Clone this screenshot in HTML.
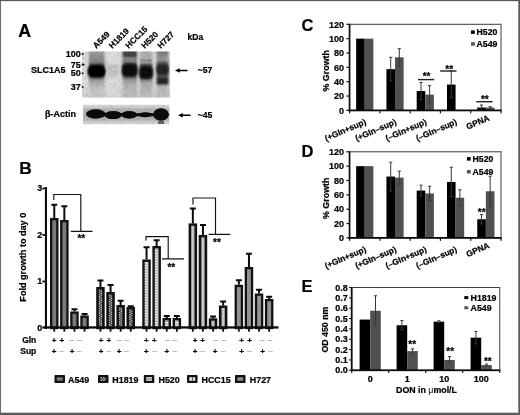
<!DOCTYPE html>
<html><head><meta charset="utf-8"><title>Figure</title>
<style>
html,body{margin:0;padding:0;background:#fff;}
body{width:520px;height:415px;overflow:hidden;}
svg{display:block;font-family:"Liberation Sans",Arial,sans-serif;font-weight:bold;fill:#000;}
text{stroke:#000;stroke-width:0.22px;}
</style></head><body>
<svg width="520" height="415" viewBox="0 0 520 415">
<defs>
<filter id="b1" x="-50%" y="-50%" width="200%" height="200%"><feGaussianBlur stdDeviation="1.1"/></filter>
<filter id="b2" x="-50%" y="-50%" width="200%" height="200%"><feGaussianBlur stdDeviation="2"/></filter>
<filter id="bl" x="-50%" y="-50%" width="200%" height="200%"><feGaussianBlur stdDeviation="1 0.4"/></filter>
<filter id="b05" x="-50%" y="-50%" width="200%" height="200%"><feGaussianBlur stdDeviation="0.6"/></filter>
<filter id="noise" x="0" y="0" width="100%" height="100%">
<feTurbulence type="fractalNoise" baseFrequency="0.35" numOctaves="2" seed="4" result="n"/>
<feColorMatrix in="n" type="matrix" values="0 0 0 0 0  0 0 0 0 0  0 0 0 0 0  0.9 0 0 0 -0.32"/>
<feComposite in2="SourceGraphic" operator="in"/>
</filter>
<pattern id="pChk" width="20" height="2.3" patternUnits="userSpaceOnUse">
<rect width="20" height="2.3" fill="#0a0a0a"/>
<rect x="2.4" y="0.05" width="1.65" height="1.3" rx="0.4" fill="#fff"/><rect x="4.5" y="1.2" width="1.65" height="1.3" rx="0.4" fill="#fff"/><rect x="4.5" y="-1.1" width="1.65" height="1.3" rx="0.4" fill="#fff"/>
</pattern>
<pattern id="pHor" width="2" height="1.6" patternUnits="userSpaceOnUse">
<rect width="2" height="1.6" fill="#f2f2f2"/><rect width="2" height="0.6" fill="#8a8a8a"/>
</pattern>
<linearGradient id="pVer" x1="0" x2="1" y1="0" y2="0">
<stop offset="0.2" stop-color="#808080"/><stop offset="0.5" stop-color="#dedede"/><stop offset="0.8" stop-color="#808080"/>
</linearGradient>
<pattern id="pDia" width="2" height="2" patternUnits="userSpaceOnUse" patternTransform="rotate(-45)">
<rect width="2" height="2" fill="#a6a6a6"/><rect width="2" height="0.7" fill="#6c6c6c"/>
</pattern>
<clipPath id="cu"><rect x="82" y="51.5" width="88" height="46"/></clipPath>
<clipPath id="cl"><rect x="83" y="104.5" width="86.5" height="20"/></clipPath>
</defs>
<rect x="0" y="0" width="520" height="415" fill="#fff"/>

<text x="18.3" y="36.8" font-size="17.8">A</text>
<g clip-path="url(#cu)">
<rect x="82" y="51.5" width="88" height="46" fill="#dcdcdc"/>
<rect x="82" y="92" width="88" height="7" fill="#cfcfcf" opacity="0.7" filter="url(#b1)"/>
<linearGradient id="lA" x1="0" x2="0" y1="0" y2="1"><stop offset="0.000" stop-color="#a4a4a4"/><stop offset="0.120" stop-color="#969696"/><stop offset="0.240" stop-color="#848484"/><stop offset="0.300" stop-color="#404040"/><stop offset="0.340" stop-color="#141414"/><stop offset="0.420" stop-color="#0a0a0a"/><stop offset="0.500" stop-color="#141414"/><stop offset="0.560" stop-color="#707070"/><stop offset="0.620" stop-color="#a4a4a4"/><stop offset="0.700" stop-color="#b6b6b6"/><stop offset="0.780" stop-color="#c6c6c6"/><stop offset="1.000" stop-color="#cccccc"/></linearGradient>
<rect x="89" y="50" width="15.5" height="50" fill="url(#lA)" filter="url(#bl)"/>
<linearGradient id="lB" x1="0" x2="0" y1="0" y2="1"><stop offset="0.000" stop-color="#e2e2e2"/><stop offset="0.240" stop-color="#e0e0e0"/><stop offset="0.320" stop-color="#c6c6c6"/><stop offset="0.480" stop-color="#c8c8c8"/><stop offset="0.580" stop-color="#dedede"/><stop offset="1.000" stop-color="#dcdcdc"/></linearGradient>
<rect x="107" y="50" width="12" height="50" fill="url(#lB)" filter="url(#bl)"/>
<linearGradient id="lC" x1="0" x2="0" y1="0" y2="1"><stop offset="0.000" stop-color="#404040"/><stop offset="0.120" stop-color="#484848"/><stop offset="0.160" stop-color="#808080"/><stop offset="0.220" stop-color="#888888"/><stop offset="0.270" stop-color="#505050"/><stop offset="0.320" stop-color="#1c1c1c"/><stop offset="0.400" stop-color="#121212"/><stop offset="0.480" stop-color="#1c1c1c"/><stop offset="0.540" stop-color="#606060"/><stop offset="0.600" stop-color="#989898"/><stop offset="0.700" stop-color="#b6b6b6"/><stop offset="1.000" stop-color="#c2c2c2"/></linearGradient>
<rect x="122.5" y="50" width="14.5" height="50" fill="url(#lC)" filter="url(#bl)"/>
<linearGradient id="lD" x1="0" x2="0" y1="0" y2="1"><stop offset="0.000" stop-color="#acacac"/><stop offset="0.160" stop-color="#b4b4b4"/><stop offset="0.210" stop-color="#8c8c8c"/><stop offset="0.250" stop-color="#a0a0a0"/><stop offset="0.300" stop-color="#505050"/><stop offset="0.360" stop-color="#1c1c1c"/><stop offset="0.460" stop-color="#101010"/><stop offset="0.540" stop-color="#202020"/><stop offset="0.600" stop-color="#808080"/><stop offset="0.660" stop-color="#aeaeae"/><stop offset="1.000" stop-color="#c6c6c6"/></linearGradient>
<rect x="139.8" y="50" width="12.6" height="50" fill="url(#lD)" filter="url(#bl)"/>
<linearGradient id="lE" x1="0" x2="0" y1="0" y2="1"><stop offset="0.000" stop-color="#686868"/><stop offset="0.100" stop-color="#8c8c8c"/><stop offset="0.200" stop-color="#969696"/><stop offset="0.270" stop-color="#505050"/><stop offset="0.330" stop-color="#2c2c2c"/><stop offset="0.420" stop-color="#262626"/><stop offset="0.480" stop-color="#383838"/><stop offset="0.540" stop-color="#505050"/><stop offset="0.580" stop-color="#2c2c2c"/><stop offset="0.650" stop-color="#222222"/><stop offset="0.690" stop-color="#707070"/><stop offset="0.730" stop-color="#b6b6b6"/><stop offset="1.000" stop-color="#c6c6c6"/></linearGradient>
<rect x="156.6" y="50" width="11.8" height="50" fill="url(#lE)" filter="url(#bl)"/>
<rect x="87.5" y="65.6" width="18" height="11.6" rx="5.5" fill="#060606" filter="url(#b1)"/>
<rect x="121.8" y="64" width="15.8" height="12.5" rx="5.5" fill="#101010" opacity="0.9" filter="url(#b1)"/>
<rect x="138.8" y="66.5" width="14.2" height="12" rx="5.5" fill="#0c0c0c" opacity="0.9" filter="url(#b1)"/>
<rect x="156" y="65" width="13" height="8.5" rx="4" fill="#222" opacity="0.7" filter="url(#b1)"/>
<rect x="82" y="51.5" width="88" height="46" fill="#555" filter="url(#noise)" opacity="0.22"/>
</g>
<circle cx="82.6" cy="54" r="1" fill="#111"/>
<circle cx="82.6" cy="64.6" r="1" fill="#111"/>
<circle cx="82.6" cy="73.3" r="1" fill="#111"/>
<circle cx="82.6" cy="87" r="1" fill="#111"/>
<rect x="82" y="63.8" width="2.6" height="1.6" rx="0.6" fill="#111"/>
<g clip-path="url(#cl)">
<rect x="83" y="104.5" width="86.5" height="20" fill="#d6d6d6"/>
<rect x="83" y="108" width="86.5" height="13" fill="#b4b4b4" filter="url(#b1)"/>
<ellipse cx="95.7" cy="114" rx="9.8" ry="4.7" fill="#080808" filter="url(#b05)"/>
<ellipse cx="113.2" cy="115" rx="8.6" ry="4.1" fill="#080808" filter="url(#b05)"/>
<ellipse cx="129.3" cy="114.8" rx="7.8" ry="3.9" fill="#080808" filter="url(#b05)"/>
<ellipse cx="145.3" cy="114.8" rx="7" ry="2.5" fill="#080808" filter="url(#b05)"/>
<ellipse cx="161" cy="114.5" rx="7.7" ry="6.2" fill="#080808" filter="url(#b05)"/>
<path d="M164,110.5 L170,114.8 L164,119 z" fill="#080808" filter="url(#b05)"/>
<rect x="92" y="113.3" width="66" height="3" fill="#080808" filter="url(#b05)"/>
<rect x="158" y="121" width="6" height="3" fill="#666" filter="url(#b05)"/>
<rect x="83" y="104.5" width="86.5" height="20" fill="#555" filter="url(#noise)" opacity="0.2"/>
</g>
<text transform="translate(96.2,49.0) rotate(-45)" font-size="8.3">A549</text>
<text transform="translate(112.2,49.0) rotate(-45)" font-size="8.3">H1819</text>
<text transform="translate(128.7,49.0) rotate(-45)" font-size="8.3">HCC15</text>
<text transform="translate(144.7,49.0) rotate(-45)" font-size="8.3">H520</text>
<text transform="translate(160.7,49.0) rotate(-45)" font-size="8.3">H727</text>
<text x="187.6" y="40.2" font-size="8.5">kDa</text>
<text x="80.8" y="57" font-size="9" text-anchor="end">100</text>
<text x="80.8" y="67.7" font-size="9" text-anchor="end">75</text>
<text x="80.8" y="76.3" font-size="9" text-anchor="end">50</text>
<text x="80.8" y="90" font-size="9" text-anchor="end">37</text>
<text x="31" y="73.3" font-size="9">SLC1A5</text>
<text x="45" y="117.3" font-size="9">β-Actin</text>
<text x="197.8" y="72.8" font-size="8.6">~57</text>
<text x="197.8" y="117.5" font-size="8.6">~45</text>
<path d="M175,70.5 l4.8,-2.3 v1.55 H187.5 v1.5 H179.8 v1.55 z" fill="#000"/>
<path d="M178,115.2 l4.8,-2.3 v1.55 H190.5 v1.5 H182.8 v1.55 z" fill="#000"/>
<text x="19.3" y="173.6" font-size="17.4">B</text>
<path d="M54.25,218 V204.5 M51.25,204.7 H57.25" stroke="#0c0c0c" stroke-width="2" fill="none"/>
<g transform="translate(50.00,218.00)"><rect x="1.15" y="1.15" width="6.20" height="108.85" fill="#7a7a7a" stroke="#111" stroke-width="2.3"/></g>
<rect x="53.35" y="328.0" width="1.8" height="3.7" fill="#111"/>
<path d="M64.35,220 V206 M61.35,206.2 H67.35" stroke="#0c0c0c" stroke-width="2" fill="none"/>
<g transform="translate(60.10,220.00)"><rect x="1.15" y="1.15" width="6.20" height="106.85" fill="#7a7a7a" stroke="#111" stroke-width="2.3"/></g>
<rect x="63.45" y="328.0" width="1.8" height="3.7" fill="#111"/>
<path d="M74.45,311.5 V309 M71.45,309.2 H77.45" stroke="#0c0c0c" stroke-width="2" fill="none"/>
<g transform="translate(70.20,311.50)"><rect x="1.15" y="1.15" width="6.20" height="15.35" fill="#7a7a7a" stroke="#111" stroke-width="2.3"/></g>
<rect x="73.55" y="328.0" width="1.8" height="3.7" fill="#111"/>
<path d="M84.55,315.5 V313.8 M81.55,314.0 H87.55" stroke="#0c0c0c" stroke-width="2" fill="none"/>
<g transform="translate(80.30,315.50)"><rect x="1.15" y="1.15" width="6.20" height="11.35" fill="#7a7a7a" stroke="#111" stroke-width="2.3"/></g>
<rect x="83.65" y="328.0" width="1.8" height="3.7" fill="#111"/>
<text x="54.20" y="343.4" font-size="8" text-anchor="middle" stroke="#000" stroke-width="0.35">+</text>
<text x="54.20" y="354.2" font-size="8" text-anchor="middle" stroke="#000" stroke-width="0.35">+</text>
<text x="61.90" y="343.4" font-size="8" text-anchor="middle" stroke="#000" stroke-width="0.35">+</text>
<rect x="59.50" y="350.90" width="4.8" height="0.9" fill="#b0b0b0"/>
<rect x="69.10" y="340.10" width="4.8" height="0.9" fill="#b0b0b0"/>
<text x="72.10" y="354.2" font-size="8" text-anchor="middle" stroke="#000" stroke-width="0.35">+</text>
<rect x="76.80" y="340.10" width="4.8" height="0.9" fill="#b0b0b0"/>
<rect x="76.90" y="350.90" width="4.8" height="0.9" fill="#b0b0b0"/>
<path d="M100.45,287 V280.3 M97.45,280.5 H103.45" stroke="#0c0c0c" stroke-width="2" fill="none"/>
<g transform="translate(96.20,287.00)"><rect x="1.2" y="1.2" width="6.10" height="39.80" fill="url(#pChk)" stroke="#111" stroke-width="2.4"/></g>
<rect x="99.55" y="328.0" width="1.8" height="3.7" fill="#111"/>
<path d="M110.55,292 V284.8 M107.55,285.0 H113.55" stroke="#0c0c0c" stroke-width="2" fill="none"/>
<g transform="translate(106.30,292.00)"><rect x="1.2" y="1.2" width="6.10" height="34.80" fill="url(#pChk)" stroke="#111" stroke-width="2.4"/></g>
<rect x="109.65" y="328.0" width="1.8" height="3.7" fill="#111"/>
<path d="M120.65,305 V300.5 M117.65,300.7 H123.65" stroke="#0c0c0c" stroke-width="2" fill="none"/>
<g transform="translate(116.40,305.00)"><rect x="1.2" y="1.2" width="6.10" height="21.80" fill="url(#pChk)" stroke="#111" stroke-width="2.4"/></g>
<rect x="119.75" y="328.0" width="1.8" height="3.7" fill="#111"/>
<path d="M130.75,307 V306 M127.75,306.2 H133.75" stroke="#0c0c0c" stroke-width="2" fill="none"/>
<g transform="translate(126.50,307.00)"><rect x="1.2" y="1.2" width="6.10" height="19.80" fill="url(#pChk)" stroke="#111" stroke-width="2.4"/></g>
<rect x="129.85" y="328.0" width="1.8" height="3.7" fill="#111"/>
<text x="101.20" y="343.4" font-size="8" text-anchor="middle" stroke="#000" stroke-width="0.35">+</text>
<text x="101.20" y="354.2" font-size="8" text-anchor="middle" stroke="#000" stroke-width="0.35">+</text>
<text x="108.80" y="343.4" font-size="8" text-anchor="middle" stroke="#000" stroke-width="0.35">+</text>
<rect x="106.40" y="350.90" width="4.8" height="0.9" fill="#b0b0b0"/>
<rect x="116.80" y="340.10" width="4.8" height="0.9" fill="#b0b0b0"/>
<text x="119.20" y="354.2" font-size="8" text-anchor="middle" stroke="#000" stroke-width="0.35">+</text>
<rect x="124.50" y="340.10" width="4.8" height="0.9" fill="#b0b0b0"/>
<rect x="124.10" y="350.90" width="4.8" height="0.9" fill="#b0b0b0"/>
<path d="M146.55,259.5 V247 M143.55,247.2 H149.55" stroke="#0c0c0c" stroke-width="2" fill="none"/>
<g transform="translate(142.30,259.50)"><rect x="1.2" y="1.2" width="6.10" height="67.30" fill="url(#pHor)" stroke="#111" stroke-width="2.4"/></g>
<rect x="145.65" y="328.0" width="1.8" height="3.7" fill="#111"/>
<path d="M156.65,246 V240 M153.65,240.2 H159.65" stroke="#0c0c0c" stroke-width="2" fill="none"/>
<g transform="translate(152.40,246.00)"><rect x="1.2" y="1.2" width="6.10" height="80.80" fill="url(#pHor)" stroke="#111" stroke-width="2.4"/></g>
<rect x="155.75" y="328.0" width="1.8" height="3.7" fill="#111"/>
<path d="M166.75,318 V315.8 M163.75,316.0 H169.75" stroke="#0c0c0c" stroke-width="2" fill="none"/>
<g transform="translate(162.50,318.00)"><rect x="1.2" y="1.2" width="6.10" height="8.80" fill="url(#pHor)" stroke="#111" stroke-width="2.4"/></g>
<rect x="165.85" y="328.0" width="1.8" height="3.7" fill="#111"/>
<path d="M176.85,318 V315.8 M173.85,316.0 H179.85" stroke="#0c0c0c" stroke-width="2" fill="none"/>
<g transform="translate(172.60,318.00)"><rect x="1.2" y="1.2" width="6.10" height="8.80" fill="url(#pHor)" stroke="#111" stroke-width="2.4"/></g>
<rect x="175.95" y="328.0" width="1.8" height="3.7" fill="#111"/>
<text x="146.30" y="343.4" font-size="8" text-anchor="middle" stroke="#000" stroke-width="0.35">+</text>
<text x="146.30" y="354.2" font-size="8" text-anchor="middle" stroke="#000" stroke-width="0.35">+</text>
<text x="154.40" y="343.4" font-size="8" text-anchor="middle" stroke="#000" stroke-width="0.35">+</text>
<rect x="152.20" y="350.90" width="4.8" height="0.9" fill="#b0b0b0"/>
<rect x="164.90" y="340.10" width="4.8" height="0.9" fill="#b0b0b0"/>
<text x="166.90" y="354.2" font-size="8" text-anchor="middle" stroke="#000" stroke-width="0.35">+</text>
<rect x="172.40" y="340.10" width="4.8" height="0.9" fill="#b0b0b0"/>
<rect x="172.40" y="350.90" width="4.8" height="0.9" fill="#b0b0b0"/>
<path d="M192.85,223.4 V208.3 M189.85,208.5 H195.85" stroke="#0c0c0c" stroke-width="2" fill="none"/>
<g transform="translate(188.60,223.40)"><rect x="1.2" y="1.2" width="6.10" height="103.40" fill="url(#pVer)" stroke="#111" stroke-width="2.4"/></g>
<rect x="191.95" y="328.0" width="1.8" height="3.7" fill="#111"/>
<path d="M202.95,235 V224.8 M199.95,225.0 H205.95" stroke="#0c0c0c" stroke-width="2" fill="none"/>
<g transform="translate(198.70,235.00)"><rect x="1.2" y="1.2" width="6.10" height="91.80" fill="url(#pVer)" stroke="#111" stroke-width="2.4"/></g>
<rect x="202.05" y="328.0" width="1.8" height="3.7" fill="#111"/>
<path d="M213.05,318.3 V316.3 M210.05,316.5 H216.05" stroke="#0c0c0c" stroke-width="2" fill="none"/>
<g transform="translate(208.80,318.30)"><rect x="1.2" y="1.2" width="6.10" height="8.50" fill="url(#pVer)" stroke="#111" stroke-width="2.4"/></g>
<rect x="212.15" y="328.0" width="1.8" height="3.7" fill="#111"/>
<path d="M223.15,305.5 V301.3 M220.15,301.5 H226.15" stroke="#0c0c0c" stroke-width="2" fill="none"/>
<g transform="translate(218.90,305.50)"><rect x="1.2" y="1.2" width="6.10" height="21.30" fill="url(#pVer)" stroke="#111" stroke-width="2.4"/></g>
<rect x="222.25" y="328.0" width="1.8" height="3.7" fill="#111"/>
<text x="195.00" y="343.4" font-size="8" text-anchor="middle" stroke="#000" stroke-width="0.35">+</text>
<text x="195.00" y="354.2" font-size="8" text-anchor="middle" stroke="#000" stroke-width="0.35">+</text>
<text x="202.70" y="343.4" font-size="8" text-anchor="middle" stroke="#000" stroke-width="0.35">+</text>
<rect x="200.30" y="350.90" width="4.8" height="0.9" fill="#b0b0b0"/>
<rect x="213.20" y="340.10" width="4.8" height="0.9" fill="#b0b0b0"/>
<text x="215.00" y="354.2" font-size="8" text-anchor="middle" stroke="#000" stroke-width="0.35">+</text>
<rect x="221.10" y="340.10" width="4.8" height="0.9" fill="#b0b0b0"/>
<rect x="220.60" y="350.90" width="4.8" height="0.9" fill="#b0b0b0"/>
<path d="M238.85,284.8 V280 M235.85,280.2 H241.85" stroke="#0c0c0c" stroke-width="2" fill="none"/>
<g transform="translate(234.60,284.80)"><rect x="1.15" y="1.15" width="6.20" height="42.05" fill="url(#pDia)" stroke="#111" stroke-width="2.3"/></g>
<rect x="237.95" y="328.0" width="1.8" height="3.7" fill="#111"/>
<path d="M248.95,267 V253.6 M245.95,253.79999999999998 H251.95" stroke="#0c0c0c" stroke-width="2" fill="none"/>
<g transform="translate(244.70,267.00)"><rect x="1.15" y="1.15" width="6.20" height="59.85" fill="url(#pDia)" stroke="#111" stroke-width="2.3"/></g>
<rect x="248.05" y="328.0" width="1.8" height="3.7" fill="#111"/>
<path d="M259.05,293.5 V289.5 M256.05,289.7 H262.05" stroke="#0c0c0c" stroke-width="2" fill="none"/>
<g transform="translate(254.80,293.50)"><rect x="1.15" y="1.15" width="6.20" height="33.35" fill="url(#pDia)" stroke="#111" stroke-width="2.3"/></g>
<rect x="258.15" y="328.0" width="1.8" height="3.7" fill="#111"/>
<path d="M269.15,299 V296.5 M266.15,296.7 H272.15" stroke="#0c0c0c" stroke-width="2" fill="none"/>
<g transform="translate(264.90,299.00)"><rect x="1.15" y="1.15" width="6.20" height="27.85" fill="url(#pDia)" stroke="#111" stroke-width="2.3"/></g>
<rect x="268.25" y="328.0" width="1.8" height="3.7" fill="#111"/>
<text x="241.50" y="343.4" font-size="8" text-anchor="middle" stroke="#000" stroke-width="0.35">+</text>
<text x="241.50" y="354.2" font-size="8" text-anchor="middle" stroke="#000" stroke-width="0.35">+</text>
<text x="249.60" y="343.4" font-size="8" text-anchor="middle" stroke="#000" stroke-width="0.35">+</text>
<rect x="247.20" y="350.90" width="4.8" height="0.9" fill="#b0b0b0"/>
<rect x="259.90" y="340.10" width="4.8" height="0.9" fill="#b0b0b0"/>
<text x="262.70" y="354.2" font-size="8" text-anchor="middle" stroke="#000" stroke-width="0.35">+</text>
<rect x="267.60" y="340.10" width="4.8" height="0.9" fill="#b0b0b0"/>
<rect x="268.00" y="350.90" width="4.8" height="0.9" fill="#b0b0b0"/>
<rect x="44.9" y="187" width="2.1" height="142.0" fill="#0c0c0c"/>
<rect x="42.5" y="326.3" width="236" height="2.3" fill="#0c0c0c"/>
<rect x="42.3" y="280.60" width="3" height="1.8" fill="#111"/>
<rect x="42.3" y="234.10" width="3" height="1.8" fill="#111"/>
<rect x="42.3" y="187.60" width="3" height="1.8" fill="#111"/>
<text x="42.3" y="330.90" font-size="9" text-anchor="end">0</text>
<text x="42.3" y="284.40" font-size="9" text-anchor="end">1</text>
<text x="42.3" y="237.90" font-size="9" text-anchor="end">2</text>
<text x="42.3" y="191.40" font-size="9" text-anchor="end">3</text>
<text transform="translate(25.9,257.2) rotate(-90)" font-size="9.1" text-anchor="middle">Fold growth to day 0</text>
<text x="36.3" y="343.4" font-size="8.5" text-anchor="end">Gln</text>
<text x="36.3" y="354.1" font-size="8.5" text-anchor="end">Sup</text>
<path d="M53.8,200 V194.5 H80.8 V231.3 M70.8,231.3 H92.5" stroke="#141414" stroke-width="1.15" fill="none"/>
<text x="81.3" y="241.5" font-size="10" text-anchor="middle">**</text>
<path d="M146,240.6 V236.6 H168.2 V258.8 M162,258.8 H184" stroke="#141414" stroke-width="1.15" fill="none"/>
<text x="171.3" y="270.5" font-size="10" text-anchor="middle">**</text>
<path d="M193,204.5 V198 H215.5 V234.3 M208.6,234.3 H230.3" stroke="#141414" stroke-width="1.15" fill="none"/>
<text x="217" y="246" font-size="10" text-anchor="middle">**</text>
<rect x="54.5" y="375" width="10.5" height="8" rx="0.8" fill="#111"/>
<rect x="56.8" y="377.3" width="5.9" height="3.4" fill="#7a7a7a"/>
<text x="68" y="383" font-size="8.9">A549</text>
<rect x="98" y="375" width="10.5" height="8" rx="0.8" fill="#111"/>
<rect x="100.6" y="377.2" width="1.3" height="1.2" fill="#f4f4f4"/>
<rect x="103.2" y="377.2" width="1.3" height="1.2" fill="#f4f4f4"/>
<rect x="101.9" y="378.5" width="1.3" height="1.2" fill="#f4f4f4"/>
<rect x="104.5" y="378.5" width="1.3" height="1.2" fill="#f4f4f4"/>
<rect x="100.6" y="379.8" width="1.3" height="1.2" fill="#f4f4f4"/>
<rect x="103.2" y="379.8" width="1.3" height="1.2" fill="#f4f4f4"/>
<text x="112.3" y="383" font-size="8.9">H1819</text>
<rect x="143.8" y="375" width="10.5" height="8" rx="0.8" fill="#111"/>
<rect x="146.10000000000002" y="377.2" width="5.9" height="1.4" fill="#fafafa"/>
<rect x="146.10000000000002" y="379.3" width="5.9" height="1.4" fill="#fafafa"/>
<text x="158.5" y="383" font-size="8.9">H520</text>
<rect x="187" y="375" width="10.5" height="8" rx="0.8" fill="#111"/>
<rect x="189.3" y="377.2" width="2.6" height="3.6" fill="#e8e8e8"/>
<rect x="192.6" y="377.2" width="2.6" height="3.6" fill="#e8e8e8"/>
<text x="201.5" y="383" font-size="8.9">HCC15</text>
<rect x="235" y="375" width="10.5" height="8" rx="0.8" fill="#111"/>
<rect x="237.3" y="377.3" width="5.9" height="3.4" fill="url(#pDia)"/>
<text x="249.8" y="383" font-size="8.9">H727</text>
<text x="301.5" y="30.5" font-size="16.5">C</text>
<rect x="349.6" y="23.8" width="152.09999999999997" height="1" fill="#3c3c3c"/>
<rect x="500.3" y="23.8" width="1.4" height="86.60000000000001" fill="#787878"/>
<rect x="356.14" y="38.65" width="8.6" height="71.75" fill="#000"/>
<rect x="364.74" y="38.65" width="8.6" height="71.75" fill="#505050"/>
<rect x="386.42" y="69.14" width="8.6" height="41.26" fill="#000"/>
<path d="M390.72,57.31 V80.98 M389.12,57.31 H392.32 M389.12,80.98 H392.32" stroke="#383838" stroke-width="1" fill="none"/>
<rect x="395.02" y="57.31" width="8.6" height="53.09" fill="#505050"/>
<path d="M399.32,48.70 V65.92 M397.72,48.70 H400.92 M397.72,65.92 H400.92" stroke="#383838" stroke-width="1" fill="none"/>
<rect x="416.70" y="91.03" width="8.6" height="19.37" fill="#000"/>
<path d="M421.00,82.42 V99.64 M419.40,82.42 H422.60 M419.40,99.64 H422.60" stroke="#383838" stroke-width="1" fill="none"/>
<rect x="425.30" y="94.62" width="8.6" height="15.78" fill="#505050"/>
<path d="M429.60,85.65 V103.58 M428.00,85.65 H431.20 M428.00,103.58 H431.20" stroke="#383838" stroke-width="1" fill="none"/>
<rect x="446.98" y="84.57" width="8.6" height="25.83" fill="#000"/>
<path d="M451.28,71.30 V97.84 M449.68,71.30 H452.88 M449.68,97.84 H452.88" stroke="#383838" stroke-width="1" fill="none"/>
<rect x="477.26" y="107.53" width="8.6" height="2.87" fill="#000"/>
<path d="M481.56,105.02 V110.04 M479.96,105.02 H483.16 M479.96,110.04 H483.16" stroke="#383838" stroke-width="1" fill="none"/>
<rect x="485.86" y="107.53" width="8.6" height="2.87" fill="#505050"/>
<path d="M490.16,106.67 V108.39 M488.56,106.67 H491.76 M488.56,108.39 H491.76" stroke="#383838" stroke-width="1" fill="none"/>
<rect x="348.70000000000005" y="23.8" width="1.7" height="87.50000000000001" fill="#0c0c0c"/>
<rect x="348.70000000000005" y="109.5" width="152.99999999999997" height="1.8" fill="#0c0c0c"/>
<rect x="346.40000000000003" y="109.80" width="3" height="1.2" fill="#111"/>
<text x="344.1" y="113.60" font-size="9" text-anchor="end">0</text>
<rect x="346.40000000000003" y="95.45" width="3" height="1.2" fill="#111"/>
<text x="344.1" y="99.25" font-size="9" text-anchor="end">20</text>
<rect x="346.40000000000003" y="81.10" width="3" height="1.2" fill="#111"/>
<text x="344.1" y="84.90" font-size="9" text-anchor="end">40</text>
<rect x="346.40000000000003" y="66.75" width="3" height="1.2" fill="#111"/>
<text x="344.1" y="70.55" font-size="9" text-anchor="end">60</text>
<rect x="346.40000000000003" y="52.40" width="3" height="1.2" fill="#111"/>
<text x="344.1" y="56.20" font-size="9" text-anchor="end">80</text>
<rect x="346.40000000000003" y="38.05" width="3" height="1.2" fill="#111"/>
<text x="344.1" y="41.85" font-size="9" text-anchor="end">100</text>
<rect x="346.40000000000003" y="23.70" width="3" height="1.2" fill="#111"/>
<text x="344.1" y="27.50" font-size="9" text-anchor="end">120</text>
<rect x="349.00" y="110.4" width="1.2" height="2.9" fill="#111"/>
<rect x="379.28" y="110.4" width="1.2" height="2.9" fill="#111"/>
<rect x="409.56" y="110.4" width="1.2" height="2.9" fill="#111"/>
<rect x="439.84" y="110.4" width="1.2" height="2.9" fill="#111"/>
<rect x="470.12" y="110.4" width="1.2" height="2.9" fill="#111"/>
<rect x="500.40" y="110.4" width="1.2" height="2.9" fill="#111"/>
<text transform="translate(329.3,70.8) rotate(-90)" font-size="8.9" text-anchor="middle">% Growth</text>
<text transform="translate(366.7,123.80000000000001) rotate(-23.5)" font-size="8.4" text-anchor="end">(+Gln+sup)</text>
<text transform="translate(397.0,123.80000000000001) rotate(-23.5)" font-size="8.4" text-anchor="end">(+Gln–sup)</text>
<text transform="translate(427.3,123.80000000000001) rotate(-23.5)" font-size="8.4" text-anchor="end">(–Gln+sup)</text>
<text transform="translate(457.6,123.80000000000001) rotate(-23.5)" font-size="8.4" text-anchor="end">(–Gln–sup)</text>
<text transform="translate(490,120.0) rotate(-23.5)" font-size="8.4" text-anchor="end">GPNA</text>
<rect x="418" y="78.89999999999999" width="16.19999999999999" height="1.4" fill="#222"/>
<text x="426.6" y="80.2" font-size="10" text-anchor="middle">**</text>
<rect x="440.2" y="70.3" width="16.30000000000001" height="1.4" fill="#222"/>
<text x="449.2" y="73.0" font-size="10" text-anchor="middle">**</text>
<rect x="476.2" y="101.0" width="16.30000000000001" height="1.4" fill="#222"/>
<text x="484.8" y="102.6" font-size="10" text-anchor="middle">**</text>
<rect x="471" y="30.40" width="3.8" height="3.5" fill="#000"/>
<text x="476.6" y="35.1" font-size="8.7">H520</text>
<rect x="471" y="42.20" width="3.8" height="3.5" fill="#555"/>
<text x="476.6" y="46.9" font-size="8.7">A549</text>
<text x="301.5" y="157.3" font-size="16.5">D</text>
<rect x="349.6" y="151.3" width="152.09999999999997" height="1" fill="#3c3c3c"/>
<rect x="500.3" y="151.3" width="1.4" height="86.6" fill="#787878"/>
<rect x="356.14" y="166.15" width="8.6" height="71.75" fill="#000"/>
<rect x="364.74" y="166.15" width="8.6" height="71.75" fill="#505050"/>
<rect x="386.42" y="176.55" width="8.6" height="61.35" fill="#000"/>
<path d="M390.72,162.20 V190.90 M389.12,162.20 H392.32 M389.12,190.90 H392.32" stroke="#383838" stroke-width="1" fill="none"/>
<rect x="395.02" y="177.63" width="8.6" height="60.27" fill="#505050"/>
<path d="M399.32,171.17 V184.09 M397.72,171.17 H400.92 M397.72,184.09 H400.92" stroke="#383838" stroke-width="1" fill="none"/>
<rect x="416.70" y="190.55" width="8.6" height="47.35" fill="#000"/>
<path d="M421.00,185.16 V195.93 M419.40,185.16 H422.60 M419.40,195.93 H422.60" stroke="#383838" stroke-width="1" fill="none"/>
<rect x="425.30" y="193.42" width="8.6" height="44.48" fill="#505050"/>
<path d="M429.60,186.24 V200.59 M428.00,186.24 H431.20 M428.00,200.59 H431.20" stroke="#383838" stroke-width="1" fill="none"/>
<rect x="446.98" y="181.94" width="8.6" height="55.97" fill="#000"/>
<path d="M451.28,167.23 V196.64 M449.68,167.23 H452.88 M449.68,196.64 H452.88" stroke="#383838" stroke-width="1" fill="none"/>
<rect x="455.58" y="197.72" width="8.6" height="40.18" fill="#505050"/>
<path d="M459.88,189.83 V205.61 M458.28,189.83 H461.48 M458.28,205.61 H461.48" stroke="#383838" stroke-width="1" fill="none"/>
<rect x="477.26" y="219.25" width="8.6" height="18.66" fill="#000"/>
<path d="M481.56,214.58 V223.91 M479.96,214.58 H483.16 M479.96,223.91 H483.16" stroke="#383838" stroke-width="1" fill="none"/>
<rect x="485.86" y="191.26" width="8.6" height="46.64" fill="#505050"/>
<path d="M490.16,176.20 V206.33 M488.56,176.20 H491.76 M488.56,206.33 H491.76" stroke="#383838" stroke-width="1" fill="none"/>
<rect x="348.70000000000005" y="151.3" width="1.7" height="87.5" fill="#0c0c0c"/>
<rect x="348.70000000000005" y="237.0" width="152.99999999999997" height="1.8" fill="#0c0c0c"/>
<rect x="346.40000000000003" y="237.30" width="3" height="1.2" fill="#111"/>
<text x="344.1" y="241.10" font-size="9" text-anchor="end">0</text>
<rect x="346.40000000000003" y="222.95" width="3" height="1.2" fill="#111"/>
<text x="344.1" y="226.75" font-size="9" text-anchor="end">20</text>
<rect x="346.40000000000003" y="208.60" width="3" height="1.2" fill="#111"/>
<text x="344.1" y="212.40" font-size="9" text-anchor="end">40</text>
<rect x="346.40000000000003" y="194.25" width="3" height="1.2" fill="#111"/>
<text x="344.1" y="198.05" font-size="9" text-anchor="end">60</text>
<rect x="346.40000000000003" y="179.90" width="3" height="1.2" fill="#111"/>
<text x="344.1" y="183.70" font-size="9" text-anchor="end">80</text>
<rect x="346.40000000000003" y="165.55" width="3" height="1.2" fill="#111"/>
<text x="344.1" y="169.35" font-size="9" text-anchor="end">100</text>
<rect x="346.40000000000003" y="151.20" width="3" height="1.2" fill="#111"/>
<text x="344.1" y="155.00" font-size="9" text-anchor="end">120</text>
<rect x="349.00" y="237.9" width="1.2" height="2.9" fill="#111"/>
<rect x="379.28" y="237.9" width="1.2" height="2.9" fill="#111"/>
<rect x="409.56" y="237.9" width="1.2" height="2.9" fill="#111"/>
<rect x="439.84" y="237.9" width="1.2" height="2.9" fill="#111"/>
<rect x="470.12" y="237.9" width="1.2" height="2.9" fill="#111"/>
<rect x="500.40" y="237.9" width="1.2" height="2.9" fill="#111"/>
<text transform="translate(329.3,198.3) rotate(-90)" font-size="8.9" text-anchor="middle">% Growth</text>
<text transform="translate(366.7,251.3) rotate(-23.5)" font-size="8.4" text-anchor="end">(+Gln+sup)</text>
<text transform="translate(397.0,251.3) rotate(-23.5)" font-size="8.4" text-anchor="end">(+Gln–sup)</text>
<text transform="translate(427.3,251.3) rotate(-23.5)" font-size="8.4" text-anchor="end">(–Gln+sup)</text>
<text transform="translate(457.6,251.3) rotate(-23.5)" font-size="8.4" text-anchor="end">(–Gln–sup)</text>
<text transform="translate(490,247.5) rotate(-23.5)" font-size="8.4" text-anchor="end">GPNA</text>
<text x="481.7" y="215.7" font-size="10" text-anchor="middle">**</text>
<rect x="466.9" y="157.10" width="3.8" height="3.5" fill="#000"/>
<text x="472.6" y="161.8" font-size="8.7">H520</text>
<rect x="466.9" y="170.00" width="3.8" height="3.5" fill="#555"/>
<text x="472.6" y="174.7" font-size="8.7">A549</text>
<text x="301.5" y="291.8" font-size="16.5">E</text>
<rect x="351.7" y="287.0" width="148.7" height="1" fill="#3c3c3c"/>
<rect x="499.0" y="287.0" width="1.4" height="83.25" fill="#787878"/>
<rect x="359.60" y="319.57" width="10.6" height="50.68" fill="#000"/>
<rect x="370.20" y="310.77" width="10.6" height="59.48" fill="#505050"/>
<path d="M375.50,295.77 V325.77 M373.90,295.77 H377.10 M373.90,325.77 H377.10" stroke="#383838" stroke-width="1" fill="none"/>
<rect x="396.60" y="325.25" width="10.6" height="45.00" fill="#000"/>
<path d="M401.90,320.60 V329.91 M400.30,320.60 H403.50 M400.30,329.91 H403.50" stroke="#383838" stroke-width="1" fill="none"/>
<rect x="407.20" y="351.11" width="10.6" height="19.14" fill="#505050"/>
<path d="M412.50,348.84 V353.39 M410.90,348.84 H414.10 M410.90,353.39 H414.10" stroke="#383838" stroke-width="1" fill="none"/>
<rect x="433.60" y="321.63" width="10.6" height="48.62" fill="#000"/>
<path d="M438.90,320.81 V322.46 M437.30,320.81 H440.50 M437.30,322.46 H440.50" stroke="#383838" stroke-width="1" fill="none"/>
<rect x="444.20" y="359.91" width="10.6" height="10.34" fill="#505050"/>
<path d="M449.50,356.60 V363.22 M447.90,356.60 H451.10 M447.90,363.22 H451.10" stroke="#383838" stroke-width="1" fill="none"/>
<rect x="470.60" y="337.67" width="10.6" height="32.58" fill="#000"/>
<path d="M475.90,331.46 V343.87 M474.30,331.46 H477.50 M474.30,343.87 H477.50" stroke="#383838" stroke-width="1" fill="none"/>
<rect x="481.20" y="365.08" width="10.6" height="5.17" fill="#505050"/>
<path d="M486.50,364.04 V366.11 M484.90,364.04 H488.10 M484.90,366.11 H488.10" stroke="#383838" stroke-width="1" fill="none"/>
<rect x="350.8" y="287.0" width="1.8" height="84.15" fill="#0c0c0c"/>
<rect x="350.8" y="369.35" width="149.6" height="1.8" fill="#0c0c0c"/>
<rect x="348.9" y="369.70" width="2.8" height="1.1" fill="#222"/>
<text x="347.7" y="373.45" font-size="9" text-anchor="end">0.0</text>
<rect x="348.9" y="359.36" width="2.8" height="1.1" fill="#222"/>
<text x="347.7" y="363.11" font-size="9" text-anchor="end">0.1</text>
<rect x="348.9" y="349.01" width="2.8" height="1.1" fill="#222"/>
<text x="347.7" y="352.76" font-size="9" text-anchor="end">0.2</text>
<rect x="348.9" y="338.67" width="2.8" height="1.1" fill="#222"/>
<text x="347.7" y="342.42" font-size="9" text-anchor="end">0.3</text>
<rect x="348.9" y="328.32" width="2.8" height="1.1" fill="#222"/>
<text x="347.7" y="332.07" font-size="9" text-anchor="end">0.4</text>
<rect x="348.9" y="317.98" width="2.8" height="1.1" fill="#222"/>
<text x="347.7" y="321.73" font-size="9" text-anchor="end">0.5</text>
<rect x="348.9" y="307.64" width="2.8" height="1.1" fill="#222"/>
<text x="347.7" y="311.39" font-size="9" text-anchor="end">0.6</text>
<rect x="348.9" y="297.29" width="2.8" height="1.1" fill="#222"/>
<text x="347.7" y="301.04" font-size="9" text-anchor="end">0.7</text>
<rect x="348.9" y="286.95" width="2.8" height="1.1" fill="#222"/>
<text x="347.7" y="290.70" font-size="9" text-anchor="end">0.8</text>
<rect x="351.10" y="370.25" width="1.2" height="2.8" fill="#222"/>
<rect x="388.10" y="370.25" width="1.2" height="2.8" fill="#222"/>
<rect x="425.10" y="370.25" width="1.2" height="2.8" fill="#222"/>
<rect x="462.10" y="370.25" width="1.2" height="2.8" fill="#222"/>
<rect x="499.10" y="370.25" width="1.2" height="2.8" fill="#222"/>
<text x="370.2" y="382.3" font-size="9" text-anchor="middle">0</text>
<text x="407.2" y="382.3" font-size="9" text-anchor="middle">1</text>
<text x="444.2" y="382.3" font-size="9" text-anchor="middle">10</text>
<text x="481.2" y="382.3" font-size="9" text-anchor="middle">100</text>
<text x="426.5" y="393.2" font-size="8.8" text-anchor="middle">DON in <tspan font-weight="normal" stroke="none">μ</tspan>mol/L</text>
<text transform="translate(328.4,329.6) rotate(-90)" font-size="8.8" text-anchor="middle">OD 450 nm</text>
<text x="412.2" y="348.4" font-size="10" text-anchor="middle">**</text>
<text x="450.2" y="355.3" font-size="10" text-anchor="middle">**</text>
<text x="487.8" y="365.4" font-size="10" text-anchor="middle">**</text>
<rect x="464.3" y="296.1" width="4" height="3" fill="#000"/>
<text x="470.6" y="300.8" font-size="8.8">H1819</text>
<rect x="464.3" y="306.3" width="4" height="3" fill="#555"/>
<text x="470.6" y="310.7" font-size="8.8">A549</text>
<rect x="0" y="0" width="520" height="1.15" fill="#5a5a5a"/>
<rect x="0" y="0" width="0.9" height="415" fill="#5a5a5a"/>
<rect x="518.3" y="0" width="1.7" height="415" fill="#5a5a5a"/>
<rect x="0" y="412.7" width="520" height="2.3" fill="#5a5a5a"/>
</svg></body></html>
